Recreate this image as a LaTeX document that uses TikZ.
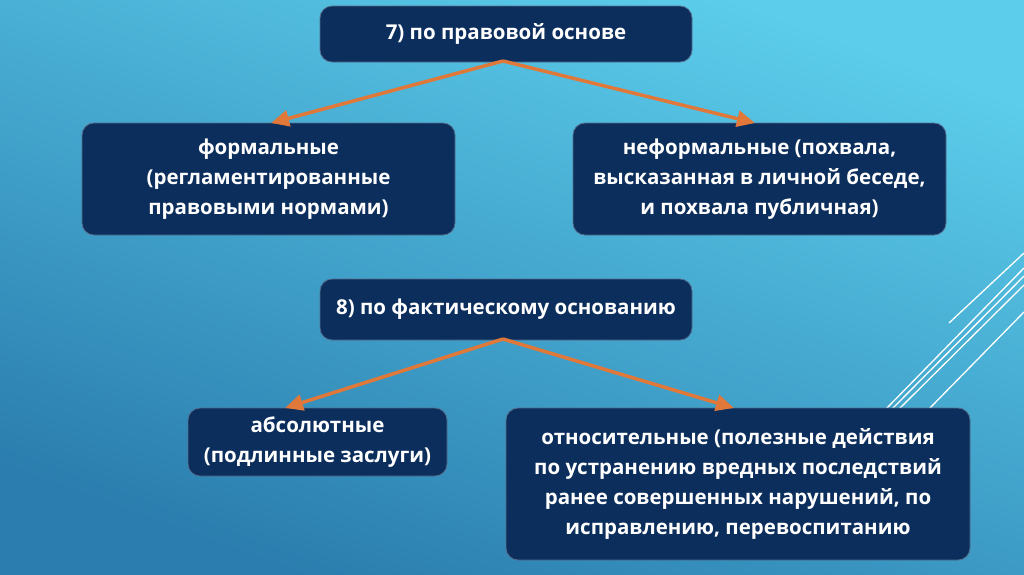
\documentclass[tikz,border=0pt]{standalone}
\usepackage{fontspec}
\setmainfont{Open Sans}
\usetikzlibrary{arrows.meta}
\definecolor{navy}{HTML}{0C2E5C}
\definecolor{arr}{HTML}{E0783A}
\definecolor{bgA}{HTML}{5CCDEB}
\definecolor{bgB}{HTML}{2A7DAE}
\tikzset{
 box/.style={draw=navy!70!white, line width=0.8pt, fill=navy, rounded corners=12pt, text=white, font=\fontsize{20.5}{30}\selectfont\bfseries, align=center, inner sep=0pt},
 conn/.style={draw=arr, line width=3.5pt, -{Triangle[length=18pt,width=16pt]}},
 deco/.style={draw=white, line width=1.3pt}
}
\begin{document}
\begin{tikzpicture}[x=1pt,y=-1pt]
\shade[top color=bgA, bottom color=bgB, shading angle=-20] (0,0) rectangle (1024,574);
\useasboundingbox (0,0) rectangle (1024,574);
\draw[deco] (949,323) -- (1024,253);
\draw[deco] (883,412) -- (1024,268);
\draw[deco] (889,412) -- (1024,276);
\draw[deco] (896,412) -- (1024,285);
\draw[deco] (926,412) -- (1024,312);
\node[box, minimum width=372pt, minimum height=56pt] (t7) at (506,34) {7) по правовой основе};
\node[box, minimum width=373pt, minimum height=112pt] (f) at (268.5,179) {формальные\\(регламентированные\\правовыми нормами)};
\node[box, minimum width=373pt, minimum height=112pt] (nf) at (759.5,179) {неформальные (похвала,\\высказанная в личной беседе,\\и похвала публичная)};
\node[box, minimum width=372pt, minimum height=61pt] (t8) at (506,309.5) {8) по фактическому основанию};
\node[box, minimum width=259pt, minimum height=68pt] (a) at (317.5,442) {абсолютные\\(подлинные заслуги)};
\node[box, minimum width=464pt, minimum height=152pt] (r) at (738,484) {относительные (полезные действия\\по устранению вредных последствий\\ранее совершенных нарушений, по\\исправлению, перевоспитанию};
\coordinate (p7) at (503,61);
\coordinate (p8) at (503,339);
\draw[conn] (p7) -- (271,123);
\draw[conn] (p7) -- (755,123);
\draw[conn] (p8) -- (285,408);
\draw[conn] (p8) -- (734,408);
\end{tikzpicture}
\end{document}
